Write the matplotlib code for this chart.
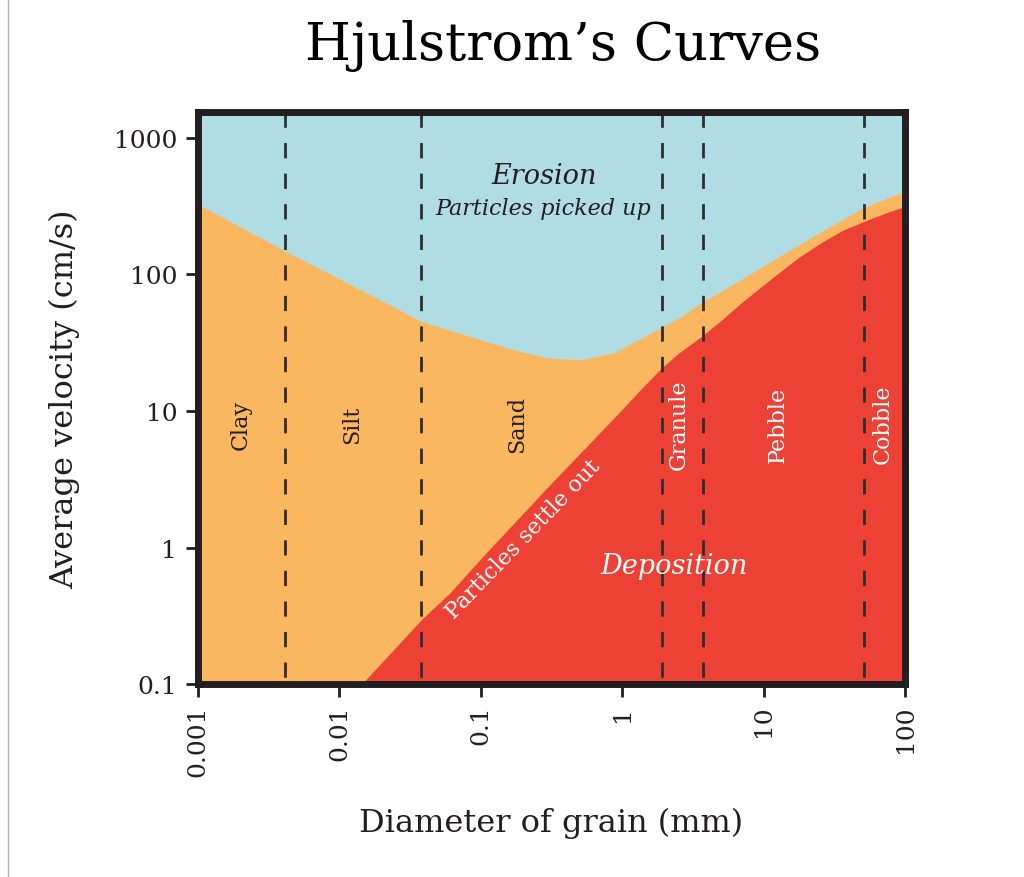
import numpy as np
import matplotlib
matplotlib.use("Agg")
import matplotlib.pyplot as plt
from matplotlib.lines import Line2D

plt.rcParams['font.family'] = ['DejaVu Serif']

# Erosion curve (boundary between blue and orange)
erosion_d = [0.001, 0.00415, 0.0113, 0.0384, 0.099, 0.17, 0.296, 0.508, 0.871,
             1.52, 2.61, 3.61, 6.95, 11.9, 25.8, 51.2, 100]
erosion_v = [327, 148, 87, 45, 33.3, 28.1, 24.5, 23.7, 26.7,
             36.2, 49.1, 62, 92, 129, 207, 311, 407]

# Settling curve (boundary between orange and red)
settle_d = [0.0144, 0.0384, 0.0607, 0.1, 0.3, 1.0, 1.36, 1.88, 2.5, 3.61, 5.0,
            6.95, 11.9, 18, 25.8, 36, 51.2, 75, 100]
settle_v = [0.1, 0.30, 0.467, 0.83, 2.8, 10.3, 14.5, 20.5, 26.5, 35, 46,
            62, 97, 135, 172, 210, 245, 285, 315]

# grain-size class boundaries (mm)
class_bounds = [0.00415, 0.0377, 1.9, 3.7, 51]
class_names = ['Clay', 'Silt', 'Sand', 'Granule', 'Pebble', 'Cobble']
class_colors = ['#231F20', '#231F20', '#231F20', 'white', 'white', 'white']
class_xfrac = [0.061, 0.218, 0.452, 0.680, 0.820, 0.968]

x_ticks = [0.001, 0.01, 0.1, 1, 10, 100]
x_labels = ['0.001', '0.01', '0.1', '1', '10', '100']
y_ticks = [0.1, 1, 10, 100, 1000]
y_labels = ['0.1', '1', '10', '100', '1000']

blue = '#AFDDE3'
orange = '#FBB660'
red = '#EE4136'
dark = '#231F20'

fig = plt.figure(figsize=(10.24, 8.78), dpi=100)
ax = fig.add_axes([0.1934, 0.2198, 0.6904, 0.6515])
ax.set_xscale('log')
ax.set_yscale('log')
ax.set_xlim(0.001, 100)
ax.set_ylim(0.1, 1550)
ax.set_facecolor(orange)

ax.fill_between(erosion_d, erosion_v, 1e5, color=blue, lw=0)
ax.fill_between(settle_d, 1e-3, settle_v, color=red, lw=0)

for b in class_bounds:
    ax.plot([b, b], [1550, 0.1], color='#2E2E2E', lw=2, ls=(0, (5.5, 5.5)), zorder=3)

for name, c, xf in zip(class_names, class_colors, class_xfrac):
    ax.text(xf, 0.455, name, transform=ax.transAxes, rotation=90, color=c,
            fontsize=16, ha='center', va='center')

ax.text(0.490, 0.889, 'Erosion', transform=ax.transAxes, fontsize=19.5,
        style='italic', color=dark, ha='center', va='center')
ax.text(0.488, 0.833, 'Particles picked up', transform=ax.transAxes, fontsize=16,
        style='italic', color=dark, ha='center', va='center')
ax.text(0.673, 0.208, 'Deposition', transform=ax.transAxes, fontsize=19.5,
        style='italic', color='white', ha='center', va='center')
ax.text(0.460, 0.255, 'Particles settle out', transform=ax.transAxes, fontsize=16,
        color='white', rotation=46, ha='center', va='center', rotation_mode='anchor')

for s in ax.spines.values():
    s.set_linewidth(5)
    s.set_color(dark)
    s.set_zorder(5)

ax.minorticks_off()
ax.set_xticks(x_ticks)
ax.set_xticklabels(x_labels, rotation=90, fontsize=18)
ax.set_yticks(y_ticks)
ax.set_yticklabels(y_labels, fontsize=18)
ax.tick_params(direction='out', length=9, width=2, color=dark, labelcolor=dark, pad=6)

ax.set_xlabel('Diameter of grain (mm)', fontsize=23, color=dark, labelpad=22)
ax.set_ylabel('Average velocity (cm/s)', fontsize=23, color=dark, labelpad=24)

fig.text(0.55, 0.948, 'Hjulstrom\u2019s Curves', fontsize=38, color='black',
         ha='center', va='center')

# thin screenshot edge on the left
fig.add_artist(Line2D([0.008, 0.008], [0, 1], transform=fig.transFigure,
                      color='#B0B0B0', lw=1))

fig.savefig('out.png', dpi=100)
